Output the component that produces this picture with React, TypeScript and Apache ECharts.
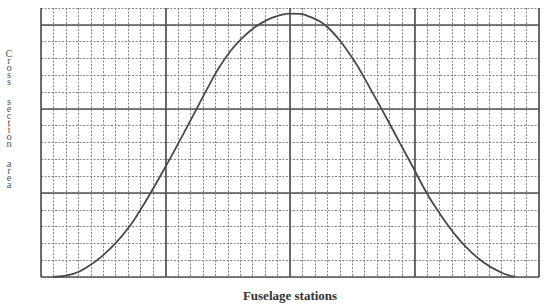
import React, { useEffect, useRef } from "react";
import * as echarts from "echarts";

const stationX = [1.0, 2.6, 3.9, 5.0, 6.1, 7.15, 7.95, 8.8, 9.56, 10.63, 11.5, 12.5, 13.57, 14.38, 15.18, 15.98, 17.05, 18.13, 19.2, 20.0, 20.8, 21.34, 22.41, 23.21, 24.02, 25.08, 25.89, 26.69, 27.35, 28.3, 28.84, 29.9, 30.98, 32.05, 33.12, 34.19, 35.53, 36.87, 38.07];
const areaY = [0, 0.18, 0.68, 1.3, 2.1, 3.05, 3.95, 5.0, 5.98, 7.4, 8.6, 10.0, 11.5, 12.55, 13.4, 14.08, 14.78, 15.28, 15.57, 15.66, 15.65, 15.55, 15.2, 14.72, 14.05, 12.95, 11.95, 10.88, 10.0, 8.7, 7.95, 6.5, 5.0, 3.75, 2.65, 1.75, 0.88, 0.3, 0];

const xMin = 0;
const xMax = 40;
const yMin = 0;
const yMax = 16;
const xMinorStep = 1;
const xMajorStep = 10;
const yMinorStep = 1;
const yMajorStep = 5;

const xTitle = "Fuselage stations";
const yTitle = "C\nr\no\ns\ns\n\n\ns\ne\nc\nt\ni\no\nn\n\n\na\nr\ne\na";

export default function App() {
  const ref = useRef<HTMLDivElement>(null);
  useEffect(() => {
    if (!ref.current) return;
    const chart = echarts.init(ref.current, null, { renderer: "svg" });
    const minorLine = { show: true, lineStyle: { color: "#888", width: 1, type: [2, 1.5] } };
    const majorLine = { show: true, lineStyle: { color: "#555", width: 1.7, type: "solid" } };
    const hidden = {
      axisLine: { show: false },
      axisTick: { show: false },
      axisLabel: { show: false },
    };
    chart.setOption({
      animation: false,
      backgroundColor: "#ffffff",
      grid: { left: 41, top: 8, right: 11, bottom: 31 },
      xAxis: [
        { type: "value", min: xMin, max: xMax, interval: xMinorStep, ...hidden, splitLine: minorLine,
          name: xTitle, nameLocation: "middle", nameGap: 12,
          nameTextStyle: { fontFamily: "Liberation Serif", fontSize: 13, color: "#333", fontWeight: "bold" } },
        { type: "value", min: xMin, max: xMax, interval: xMajorStep, position: "bottom", ...hidden, splitLine: majorLine },
      ],
      yAxis: [
        { type: "value", min: yMin, max: yMax, interval: yMinorStep, ...hidden, splitLine: minorLine },
        { type: "value", min: yMin, max: yMax, interval: yMajorStep, position: "left", ...hidden,
          splitLine: { ...majorLine, showMaxLine: false } },
      ],
      graphic: [
        {
          type: "text",
          x: 9,
          y: 50,
          style: {
            text: yTitle,
            fontFamily: "Liberation Serif",
            fontSize: 10.5,
            lineHeight: 6.9,
            fill: "#555",
            align: "center",
            verticalAlign: "top",
          },
        },
      ],
      series: [
        {
          type: "line",
          xAxisIndex: 0,
          yAxisIndex: 0,
          data: stationX.map((x, i) => [x, areaY[i]]),
          smooth: true,
          symbol: "none",
          lineStyle: { color: "#4a4a4a", width: 1.8 },
          z: 10,
        },
      ],
    });
    return () => chart.dispose();
  }, []);
  return <div ref={ref} style={{ position: "absolute", left: 0, top: 0, width: 550, height: 308 }} />;
}
